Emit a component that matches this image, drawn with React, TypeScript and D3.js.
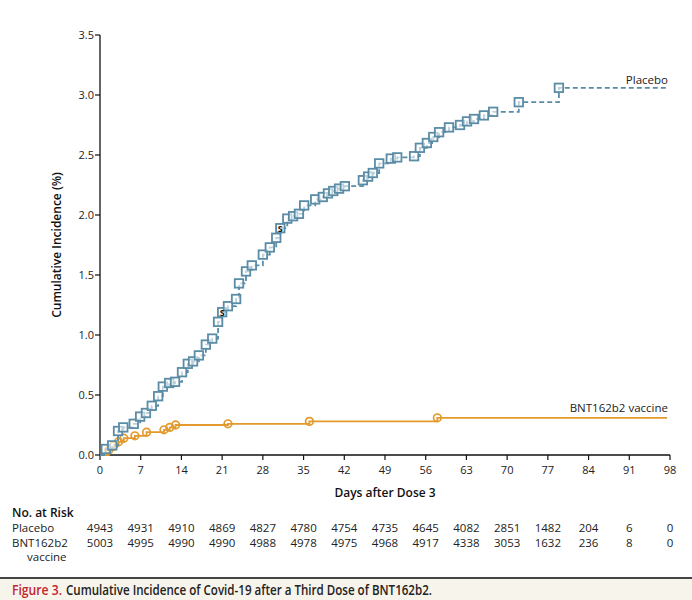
import * as d3 from 'd3';
import * as React from 'react';

// Kaplan-Meier style cumulative incidence
const placeboDays = [
  1.0, 2.1, 3.1, 4.0, 5.8, 6.9, 7.9, 8.9, 10.0, 10.8, 11.9, 12.9, 14.1, 15.1, 16.0,
  17.0, 18.2, 19.3, 20.3, 21.0, 22.0, 23.4, 23.9, 25.1, 26.1, 28.0, 29.2, 30.3, 31.0,
  32.2, 33.2, 34.2, 35.1, 37.0, 38.3, 39.2, 40.1, 41.1, 42.1, 45.2, 46.1, 46.9, 48.0,
  50.0, 51.1, 54.0, 55.0, 56.2, 57.3, 58.3, 60.0, 61.9, 63.1, 64.3, 66.0, 67.6, 72.0,
  78.9,
];
const placeboPct = [
  0.05, 0.08, 0.2, 0.23, 0.26, 0.32, 0.35, 0.41, 0.49, 0.57, 0.6, 0.61, 0.69, 0.76, 0.78,
  0.83, 0.92, 0.97, 1.11, 1.19, 1.24, 1.3, 1.43, 1.53, 1.58, 1.67, 1.73, 1.81, 1.89,
  1.97, 1.99, 2.01, 2.08, 2.13, 2.15, 2.18, 2.2, 2.22, 2.24, 2.29, 2.32, 2.35, 2.43,
  2.47, 2.48, 2.49, 2.56, 2.6, 2.65, 2.69, 2.73, 2.75, 2.78, 2.8, 2.83, 2.86, 2.94,
  3.06,
];
const placeboSDays = [21.0, 31.0];

const vaccineDays = [1.5, 2.4, 3.2, 4.1, 6.0, 8.0, 11.0, 12.0, 13.0, 22.0, 36.0, 58.0];
const vaccinePct = [0.04, 0.08, 0.11, 0.14, 0.16, 0.19, 0.21, 0.23, 0.25, 0.26, 0.28, 0.31];

const lastDay = 97.5;

const dayTicks = [0, 7, 14, 21, 28, 35, 42, 49, 56, 63, 70, 77, 84, 91, 98];
const pctTicks = [0, 0.5, 1.0, 1.5, 2.0, 2.5, 3.0, 3.5];

const riskPlacebo = [4943, 4931, 4910, 4869, 4827, 4780, 4754, 4735, 4645, 4082, 2851, 1482, 204, 6, 0];
const riskVaccine = [5003, 4995, 4990, 4990, 4988, 4978, 4975, 4968, 4917, 4338, 3053, 1632, 236, 8, 0];

const blue = '#5a8ca6';
const orange = '#e29a2c';
const font = '"Open Sans", "Noto Sans", sans-serif';

type Pt = [number, number];

const toSteps = (days: number[], pct: number[]): Pt[] => {
  const pts: Pt[] = [[0, 0]];
  days.forEach((d, i) => pts.push([d, pct[i]]));
  pts.push([lastDay, pct[pct.length - 1]]);
  return pts;
};

export default function App() {
  const x = d3.scaleLinear().domain([0, 98]).range([100, 670]);
  const y = d3.scaleLinear().domain([0, 3.5]).range([455, 35]);

  const line = d3
    .line<Pt>()
    .x((d) => x(d[0]))
    .y((d) => y(d[1]))
    .curve(d3.curveStepAfter);

  const placebo = toSteps(placeboDays, placeboPct);
  const vaccine = toSteps(vaccineDays, vaccinePct);
  const sz = 8.5;

  return (
    <div style={{ position: 'fixed', left: 0, top: 0 }}>
      <svg width={692} height={600} style={{ display: 'block', fontFamily: font }}>
        <rect width={692} height={600} fill="#fff" />

        {/* y axis */}
        <line x1={x(0)} x2={x(0)} y1={y(3.5)} y2={y(0)} stroke="#111" strokeWidth={1.3} />
        {pctTicks.map((t) => (
          <g key={t}>
            <line x1={x(0) - 5} x2={x(0)} y1={y(t)} y2={y(t)} stroke="#111" strokeWidth={1.2} />
            <text x={x(0) - 6} y={y(t) + 4} fontSize={11} textAnchor="end" fill="#222">
              {t.toFixed(1)}
            </text>
          </g>
        ))}
        <text
          transform={`translate(61,${(y(0) + y(3.5)) / 2}) rotate(-90)`}
          fontSize={12}
          fontWeight={600}
          textAnchor="middle"
          fill="#111"
        >
          Cumulative Incidence (%)
        </text>

        {/* x axis */}
        <line x1={x(0)} x2={x(98)} y1={y(0)} y2={y(0)} stroke="#111" strokeWidth={1.3} />
        {dayTicks.map((t) => (
          <g key={t}>
            <line x1={x(t)} x2={x(t)} y1={y(0)} y2={y(0) + 5} stroke="#111" strokeWidth={1.2} />
            <text x={x(t)} y={y(0) + 19} fontSize={11} textAnchor="middle" fill="#222">
              {t}
            </text>
          </g>
        ))}
        <text x={(x(0) + x(98)) / 2} y={497} fontSize={12} fontWeight={600} textAnchor="middle" fill="#111">
          Days after Dose 3
        </text>

        {/* curves */}
        <path d={line(vaccine) ?? ''} fill="none" stroke={orange} strokeWidth={1.8} />
        {vaccineDays.map((d, i) => (
          <circle key={i} cx={x(d)} cy={y(vaccinePct[i])} r={3.8} fill="none" stroke={orange} strokeWidth={1.7} />
        ))}

        <path d={line(placebo) ?? ''} fill="none" stroke={blue} strokeWidth={1.8} strokeDasharray="5,3" />
        {placeboDays.map((d, i) => (
          <rect
            key={i}
            x={x(d) - sz / 2}
            y={y(placeboPct[i]) - sz / 2}
            width={sz}
            height={sz}
            fill="#fff"
            fillOpacity={0.6}
            stroke={blue}
            strokeWidth={1.8}
          />
        ))}
        {placeboSDays.map((d) => {
          const i = placeboDays.indexOf(d);
          return (
            <text key={d} x={x(d)} y={y(placeboPct[i]) + 3.5} fontSize={9} fontWeight={700} textAnchor="middle" fill="#111">
              S
            </text>
          );
        })}

        <text x={668} y={84} fontSize={11.5} textAnchor="end" fill="#222">
          Placebo
        </text>
        <text x={668} y={412} fontSize={11.5} textAnchor="end" fill="#222">
          BNT162b2 vaccine
        </text>

        {/* number at risk */}
        <text x={12} y={517} fontSize={12} fontWeight={600} fill="#111">
          No. at Risk
        </text>
        <text x={12} y={532} fontSize={11.5} fill="#222">
          Placebo
        </text>
        <text x={12} y={547} fontSize={11.5} fill="#222">
          BNT162b2
        </text>
        <text x={27} y={561} fontSize={11.5} fill="#222">
          vaccine
        </text>
        {dayTicks.map((t, i) => (
          <g key={t}>
            <text x={x(t)} y={532} fontSize={11.5} textAnchor="middle" fill="#222">
              {riskPlacebo[i]}
            </text>
            <text x={x(t)} y={547} fontSize={11.5} textAnchor="middle" fill="#222">
              {riskVaccine[i]}
            </text>
          </g>
        ))}

        {/* caption */}
        <rect x={0} y={578} width={692} height={22} fill="#f7f4ec" />
        <line x1={0} x2={692} y1={578} y2={578} stroke="#444" strokeWidth={2} />
        <text x={12} y={595} fontSize={13.5} fontWeight={600} fill="#c1272d" textLength={50} lengthAdjust="spacingAndGlyphs">
          Figure 3.
        </text>
        <text x={66} y={595} fontSize={13.5} fontWeight={600} fill="#222" textLength={366} lengthAdjust="spacingAndGlyphs">
          Cumulative Incidence of Covid-19 after a Third Dose of BNT162b2.
        </text>
      </svg>
    </div>
  );
}
